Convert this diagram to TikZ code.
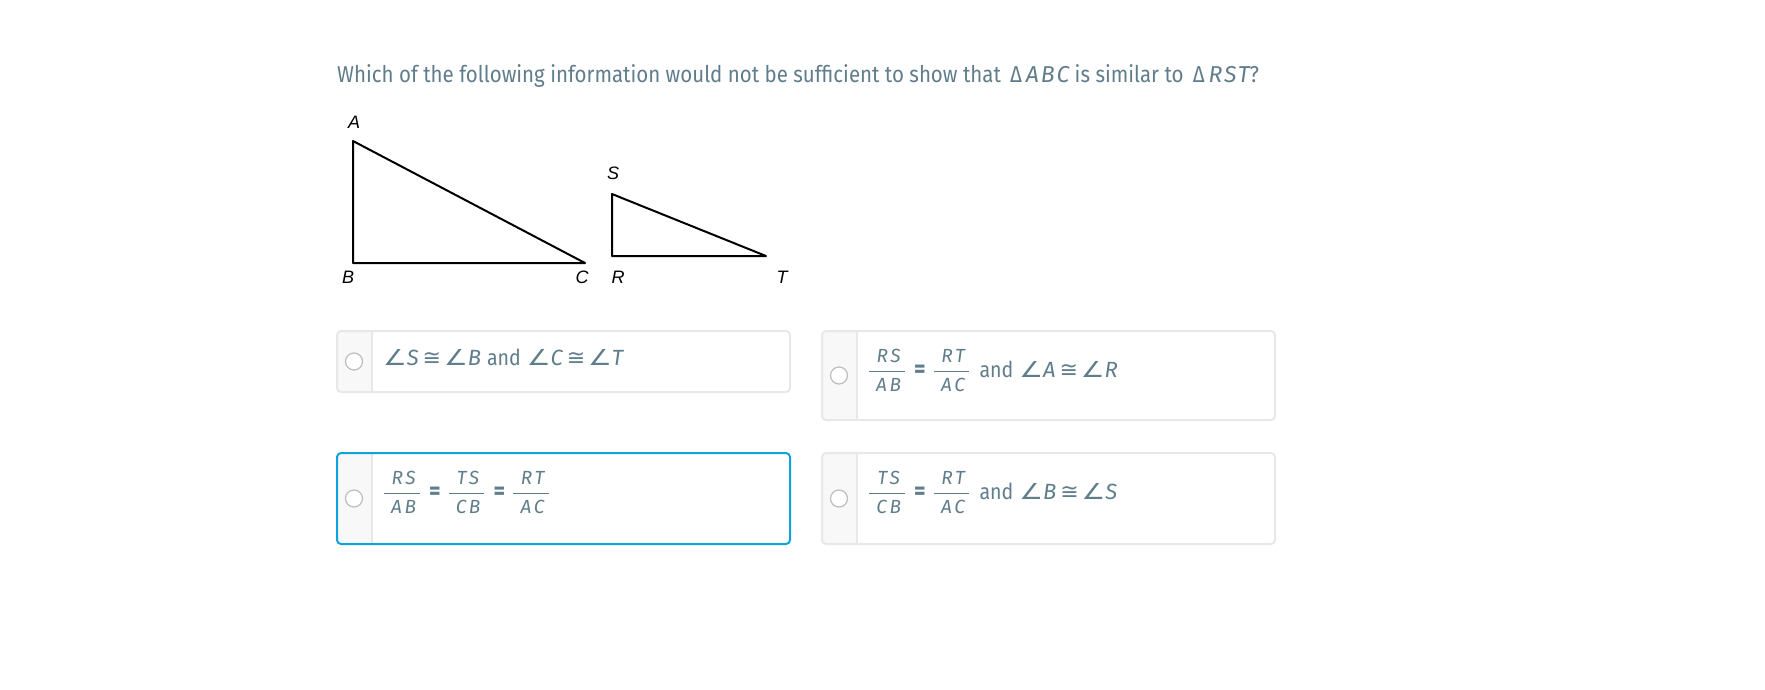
\documentclass[tikz,border=0pt]{standalone}
\usepackage{amsmath}
\usepackage{fontspec}
\setmainfont{Fira Sans}
\newfontfamily\qfont[FakeStretch=0.89]{Fira Sans}
\newfontfamily\mvfont[LetterSpace=8]{Fira Sans}
\newfontfamily\frfont[LetterSpace=14]{Fira Sans}
\newfontfamily\labelfont{Liberation Sans}
\newfontfamily\symfont{DejaVu Sans}
\newfontfamily\angfont[FakeStretch=1.2]{DejaVu Sans}
\usetikzlibrary{positioning}

\definecolor{bluegrey}{RGB}{96,125,139}
\definecolor{boxgrey}{RGB}{232,232,232}
\definecolor{stripgrey}{RGB}{248,248,248}
\definecolor{radiogrey}{RGB}{189,189,189}
\definecolor{focusblue}{RGB}{14,163,220}

% math letters, angle and congruence signs
\newcommand{\mv}[1]{{\mvfont\itshape #1}}
\newcommand{\angl}{{\angfont ∠}}
\newcommand{\congr}{\hspace{4pt}{\symfont ≅}\hspace{3pt}}
\newcommand{\eqs}{\hspace{8pt}{\fontsize{25}{25}\selectfont\bfseries =}\hspace{7pt}}
\newcommand{\ratio}[2]{\ensuremath{\genfrac{}{}{1.3pt}{0}%
  {\text{\makebox[35.5pt]{\fontsize{19}{19}\selectfont\frfont\itshape\hspace{3pt}#1}}}%
  {\text{\makebox[35.5pt]{\fontsize{19}{19}\selectfont\frfont\itshape\hspace{3pt}#2}}}}}

\begin{document}
\begin{tikzpicture}[x=1pt, y=-1pt, line cap=round, line join=round,
    tri/.style={line width=2pt},
    vlabel/.style={inner sep=0, font=\labelfont\itshape\fontsize{18}{18}\selectfont},
    question/.style={inner sep=0, text=bluegrey, font=\qfont\fontsize{23}{27}\selectfont},
    choicetext/.style={inner sep=0, text=bluegrey, font=\qfont\fontsize{22}{26}\selectfont},
    choicebox/.style={draw=boxgrey, line width=2pt, rounded corners=4pt, fill=white,
      minimum width=453pt, anchor=north west, inner sep=0,
      path picture={
        \fill[stripgrey] (path picture bounding box.north west)
          rectangle ([xshift=35pt]path picture bounding box.south west);
        \draw[boxgrey, line width=2pt] ([xshift=35pt]path picture bounding box.north west)
          -- ([xshift=35pt]path picture bounding box.south west);
      }},
    radio/.style={circle, draw=radiogrey, fill=white, line width=1.2pt,
      minimum size=17pt, inner sep=0}]

    % Frame
    \useasboundingbox[fill=white] (0,0) rectangle (1765,689);

    % Question
    \node[question, anchor=base west] (question) at (337,82)
      {Which of the following information would not be sufficient to show that
       \,Δ\,\mv{ABC} is similar to \,Δ\,\mv{RST}?};

    % Triangle ABC
    \coordinate (A) at (353,141);
    \coordinate (B) at (353,263);
    \coordinate (C) at (585,263);
    \draw[tri] (A) -- (B) -- (C) -- cycle;
    \node[vlabel] (labA) at (354,122) {A};
    \node[vlabel] (labB) at (348,277) {B};
    \node[vlabel] (labC) at (582,277) {C};

    % Triangle RST
    \coordinate (S) at (612,194);
    \coordinate (R) at (612,256);
    \coordinate (T) at (766,256);
    \draw[tri] (S) -- (R) -- (T) -- cycle;
    \node[vlabel] (labS) at (613,173) {S};
    \node[vlabel] (labR) at (618,277) {R};
    \node[vlabel] (labT) at (782,277) {T};

    % Choice 1
    \node[choicebox, minimum height=61pt] (box1) at (336,330) {};
    \node[radio] (radio1) at ([xshift=18pt]box1.west) {};
    \node[choicetext, anchor=base west] (txt1) at (383,365)
      {\angl\mv{S}\congr\angl\mv{B}\hspace{6pt}and\hspace{6pt}\angl\mv{C}\congr\angl\mv{T}};

    % Choice 2
    \node[choicebox, minimum height=89pt] (box2) at (821,330) {};
    \node[radio] (radio2) at ([xshift=18pt]box2.west) {};
    \node[choicetext, anchor=base west] (txt2) at (868,377)
      {\ratio{RS}{AB}\eqs\ratio{RT}{AC}\hspace{9pt}and\hspace{6pt}\angl\mv{A}\congr\angl\mv{R}};

    % Choice 3 (selected)
    \node[choicebox, draw=focusblue, minimum height=91pt] (box3) at (336,452) {};
    \node[radio] (radio3) at ([xshift=18pt]box3.west) {};
    \node[choicetext, anchor=base west] (txt3) at (383,499)
      {\ratio{RS}{AB}\eqs\ratio{TS}{CB}\eqs\ratio{RT}{AC}};

    % Choice 4
    \node[choicebox, minimum height=91pt] (box4) at (821,452) {};
    \node[radio] (radio4) at ([xshift=18pt]box4.west) {};
    \node[choicetext, anchor=base west] (txt4) at (868,499)
      {\ratio{TS}{CB}\eqs\ratio{RT}{AC}\hspace{9pt}and\hspace{6pt}\angl\mv{B}\congr\angl\mv{S}};

\end{tikzpicture}
\end{document}
